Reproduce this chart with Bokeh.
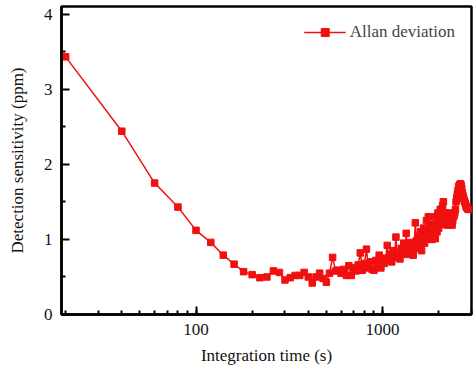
from bokeh.plotting import figure
from bokeh.models import Range1d, LogTicker, BasicTickFormatter, FixedTicker, Legend, LegendItem
from bokeh.embed import file_html
from bokeh.resources import INLINE

# Integration time (s)
tau = list(range(20, 2920, 20))

# Allan deviation (ppm)
adev = [
    3.43, 2.44, 1.75, 1.43, 1.12, 0.96, 0.79, 0.67, 0.57, 0.53,   # 20-200
    0.49, 0.50, 0.58, 0.56, 0.46, 0.49, 0.52, 0.52, 0.56, 0.50,   # 220-400
    0.42, 0.50, 0.55, 0.48, 0.43, 0.55, 0.76, 0.58, 0.59, 0.55,   # 420-600
    0.60, 0.52, 0.65, 0.52, 0.62, 0.58, 0.66, 0.82, 0.59, 0.68,   # 620-800
    0.87, 0.62, 0.70, 0.60, 0.59, 0.72, 0.66, 0.79, 0.62, 0.70,   # 820-1000
    0.68, 0.75, 0.92, 0.72, 0.80, 0.70, 0.85, 0.76, 1.03, 0.78,   # 1020-1200
    0.82, 0.74, 0.88, 0.80, 0.95, 0.82, 1.08, 0.85, 0.90, 0.80,   # 1220-1400
    0.96, 0.86, 0.79, 0.95, 1.22, 0.98, 0.88, 1.04, 0.90, 1.10,   # 1420-1600
    0.85, 1.00, 1.15, 0.95, 1.05, 1.25, 1.00, 1.30, 1.10, 1.05,   # 1620-1800
    1.20, 1.00, 1.15, 1.05, 1.30, 1.01, 1.20, 1.10, 1.35, 1.15,   # 1820-2000
    1.25, 1.40, 1.20, 1.30, 1.45, 1.50, 1.35, 1.25, 1.35, 1.25,   # 2020-2200
    1.19, 1.28, 1.35, 1.22, 1.30, 1.25, 1.20, 1.19, 1.25, 1.30,   # 2220-2400
    1.32, 1.35, 1.40, 1.50, 1.55, 1.60, 1.65, 1.70, 1.72, 1.73,   # 2420-2600
    1.74, 1.72, 1.68, 1.62, 1.58, 1.55, 1.52, 1.50, 1.48, 1.45,   # 2620-2800
    1.43, 1.42, 1.41, 1.40, 1.40,                                 # 2820-2900
]

y_ticks = [0, 1, 2, 3, 4]

RED = "#f01010"
FONT = "Liberation Serif"

p = figure(width=474, height=376, x_axis_type="log",
           x_range=Range1d(19, 3000), y_range=Range1d(0, 4.1),
           output_backend="svg", toolbar_location=None,
           min_border_left=61, min_border_right=3,
           min_border_top=6, min_border_bottom=62)

line_r = p.line(tau, adev, line_color=RED, line_width=1.5)
pts_r = p.scatter(tau, adev, marker="square", size=6.5,
                  fill_color=RED, line_color=RED)

p.grid.visible = False
p.outline_line_color = "black"
p.outline_line_width = 2.5
p.background_fill_color = "white"
p.border_fill_color = "white"

for ax in (p.xaxis[0], p.yaxis[0]):
    ax.axis_line_width = 2.5
    ax.axis_line_color = "black"
    ax.major_tick_in = 8
    ax.major_tick_out = 0
    ax.minor_tick_in = 4
    ax.minor_tick_out = 0
    ax.major_tick_line_width = 2
    ax.minor_tick_line_width = 2
    ax.major_label_text_font = FONT
    ax.major_label_text_font_size = "17px"
    ax.major_label_text_color = "#111122"
    ax.axis_label_text_font = FONT
    ax.axis_label_text_font_size = "17px"
    ax.axis_label_text_font_style = "normal"
    ax.axis_label_text_color = "#111111"
    ax.major_label_standoff = 9

p.xaxis.ticker = LogTicker(num_minor_ticks=10)
p.xaxis.formatter = BasicTickFormatter(use_scientific=False)
p.xaxis.axis_label = "Integration time (s)"
p.xaxis.axis_label_standoff = 8

p.yaxis.ticker = FixedTicker(ticks=y_ticks, minor_ticks=[0.5, 1.5, 2.5, 3.5])
p.yaxis.axis_label = "Detection sensitivity (ppm)"
p.yaxis.axis_label_standoff = 14

legend = Legend(items=[LegendItem(label="Allan deviation", renderers=[line_r, pts_r])],
                location="top_right")
legend.border_line_alpha = 0
legend.background_fill_alpha = 0
legend.label_text_font = FONT
legend.label_text_font_size = "17px"
legend.glyph_width = 42
legend.label_standoff = 4
legend.margin = 10
legend.padding = 6
p.add_layout(legend)

open("out.html", "w").write(file_html(p, INLINE))
